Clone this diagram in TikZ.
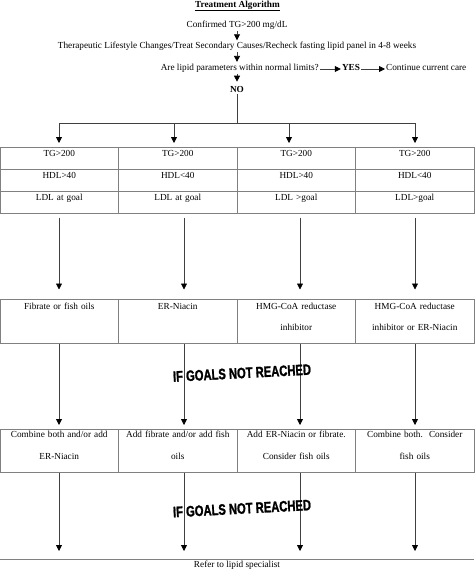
\documentclass[tikz,border=0pt]{standalone}
\usepackage{fontspec}
\setmainfont{Liberation Serif}
\newfontfamily\wordart{Liberation Sans Bold}[FakeBold=1.6]
\usetikzlibrary{arrows.meta}

\tikzset{
  txt/.style={inner sep=1.5pt, anchor=base},
  cell/.style={draw=black!50, line width=0.7pt, text width=114.5pt, inner xsep=2pt, inner ysep=1pt, align=center, anchor=north},
  row/.style={cell, text height=8.5pt, text depth=11.5pt},
  tworow/.style={cell, font=\fontsize{9.25}{21}\selectfont, text height=9.5pt, text depth=32.5pt},
  tworowb/.style={cell, font=\fontsize{9.25}{22}\selectfont, text height=7.5pt, text depth=33.5pt},
  rule/.style={draw=black!50, line width=0.7pt},
  flow/.style={draw=black!75, line width=0.8pt, -{Triangle[length=6pt,width=6pt,color=black]}},
  goals/.style={font=\wordart\fontsize{11.2}{13}\selectfont, inner sep=0pt, rotate=3},
}

\begin{document}
\begin{tikzpicture}[x=1pt, y=-1pt, font=\fontsize{9.25}{11}\selectfont]
    \useasboundingbox (0,0) rectangle (474,581);

    % top of the algorithm
    \node[txt] (title) at (237.5,7) {\textbf{\underline{Treatment Algorithm}}};
    \node[txt] (confirmed) at (237,27.5) {Confirmed TG>200 mg/dL};
    \node[txt] (lifestyle) at (237,48.5) {Therapeutic Lifestyle Changes/Treat Secondary Causes/Recheck fasting lipid panel in 4-8 weeks};
    \node[txt, inner xsep=1pt, anchor=base east] (question) at (320,70) {Are lipid parameters within normal limits?};
    \node[txt, inner xsep=1pt] (yes) at (351,70) {\textbf{YES}};
    \node[txt, inner xsep=1pt, anchor=base west] (continue) at (385,70) {Continue current care};
    \node[txt] (no) at (237,92.5) {\textbf{NO}};

    \draw[flow] (confirmed) -- (lifestyle);
    \draw[flow] (lifestyle.south) -- (lifestyle.south |- question.north);
    \draw[flow] ([yshift=1pt]question.base east) -- ([yshift=1pt]yes.base west);
    \draw[flow] ([yshift=1pt]yes.base east) -- ([yshift=1pt]continue.base west);
    \draw[flow, shorten >=3pt] (no |- question.south) -- (no.north);

    % split into four
    \coordinate (split) at (237,123);
    \coordinate (s1) at (59,123);
    \coordinate (s2) at (174,123);
    \coordinate (s3) at (289,123);
    \coordinate (s4) at (415,123);
    \draw[rule, draw=black!75] (no.south) -- (split);
    \draw[rule, draw=black!75] (s1) -- (s4);

    % first table
    \node[row] (tg1) at (59.25,147) {TG>200};
    \node[row] (tg2) at (177.75,147) {TG>200};
    \node[row] (tg3) at (296.25,147) {TG>200};
    \node[row] (tg4) at (414.75,147) {TG>200};
    \node[row] (hdl1) at (59.25,169) {HDL>40};
    \node[row] (hdl2) at (177.75,169) {HDL<40};
    \node[row] (hdl3) at (296.25,169) {HDL>40};
    \node[row] (hdl4) at (414.75,169) {HDL<40};
    \node[row] (ldl1) at (59.25,191) {LDL at goal};
    \node[row] (ldl2) at (177.75,191) {LDL at goal};
    \node[row] (ldl3) at (296.25,191) {LDL >goal};
    \node[row] (ldl4) at (414.75,191) {LDL>goal};

    \draw[flow, shorten >=4pt] (s1) -- (s1 |- tg1.north);
    \draw[flow, shorten >=4pt] (s2) -- (s2 |- tg2.north);
    \draw[flow, shorten >=4pt] (s3) -- (s3 |- tg3.north);
    \draw[flow, shorten >=4pt] (s4) -- (s4 |- tg4.north);

    % first treatment
    \node[tworow] (fib) at (59.25,299) {Fibrate or fish oils};
    \node[tworow] (niac) at (177.75,299) {ER-Niacin};
    \node[tworow] (hmg) at (296.25,299) {HMG-CoA reductase\\inhibitor};
    \node[tworow] (hmgn) at (414.75,299) {HMG-CoA reductase\\inhibitor or ER-Niacin};

    \draw[flow, shorten <=4pt, shorten >=9.5pt] ([xshift=-0.25pt]ldl1.south) -- ([xshift=-0.25pt]fib.north);
    \draw[flow, shorten <=4pt, shorten >=9.5pt] ([xshift=6.25pt]ldl2.south) -- ([xshift=6.25pt]niac.north);
    \draw[flow, shorten <=4pt, shorten >=9.5pt] ([xshift=3.75pt]ldl3.south) -- ([xshift=3.75pt]hmg.north);
    \draw[flow, shorten <=4pt, shorten >=9.5pt] ([xshift=0.25pt]ldl4.south) -- ([xshift=0.25pt]hmgn.north);

    % second treatment
    \node[tworowb] (comb) at (59.25,429) {Combine both and/or add\\ER-Niacin};
    \node[tworowb] (addfib) at (177.75,429) {Add fibrate and/or add fish\\oils};
    \node[tworowb] (addniac) at (296.25,429) {Add ER-Niacin or fibrate.\\Consider fish oils};
    \node[tworowb] (combfish) at (414.75,429) {Combine both.~~Consider\\fish oils};

    \draw[flow, shorten >=4pt] ([xshift=-0.25pt]fib.south) -- ([xshift=-0.25pt]comb.north);
    \draw[flow, shorten >=4pt] ([xshift=6.25pt]niac.south) -- ([xshift=6.25pt]addfib.north);
    \draw[flow, shorten >=4pt] ([xshift=3.75pt]hmg.south) -- ([xshift=3.75pt]addniac.north);
    \draw[flow, shorten >=4pt] ([xshift=0.25pt]hmgn.south) -- ([xshift=0.25pt]combfish.north);

    % specialist
    \node[anchor=north, minimum width=474pt, inner sep=1pt, text height=7pt] (refer) at (237,559) {Refer to lipid specialist};
    \draw[rule] (refer.north west) -- (refer.north east);

    \draw[flow, shorten >=8pt] ([xshift=-0.25pt]comb.south) -- ([xshift=-0.25pt]comb.south |- refer.north);
    \draw[flow, shorten >=8pt] ([xshift=6.25pt]addfib.south) -- ([xshift=6.25pt]addfib.south |- refer.north);
    \draw[flow, shorten >=8pt] ([xshift=3.75pt]addniac.south) -- ([xshift=3.75pt]addniac.south |- refer.north);
    \draw[flow, shorten >=8pt] ([xshift=0.25pt]combfish.south) -- ([xshift=0.25pt]combfish.south |- refer.north);

    % word art
    \node[goals] (goals1) at (242,373) {\scalebox{1}[1.35]{IF GOALS NOT REACHED}};
    \node[goals] (goals2) at (242,508.5) {\scalebox{1}[1.35]{IF GOALS NOT REACHED}};
\end{tikzpicture}
\end{document}
